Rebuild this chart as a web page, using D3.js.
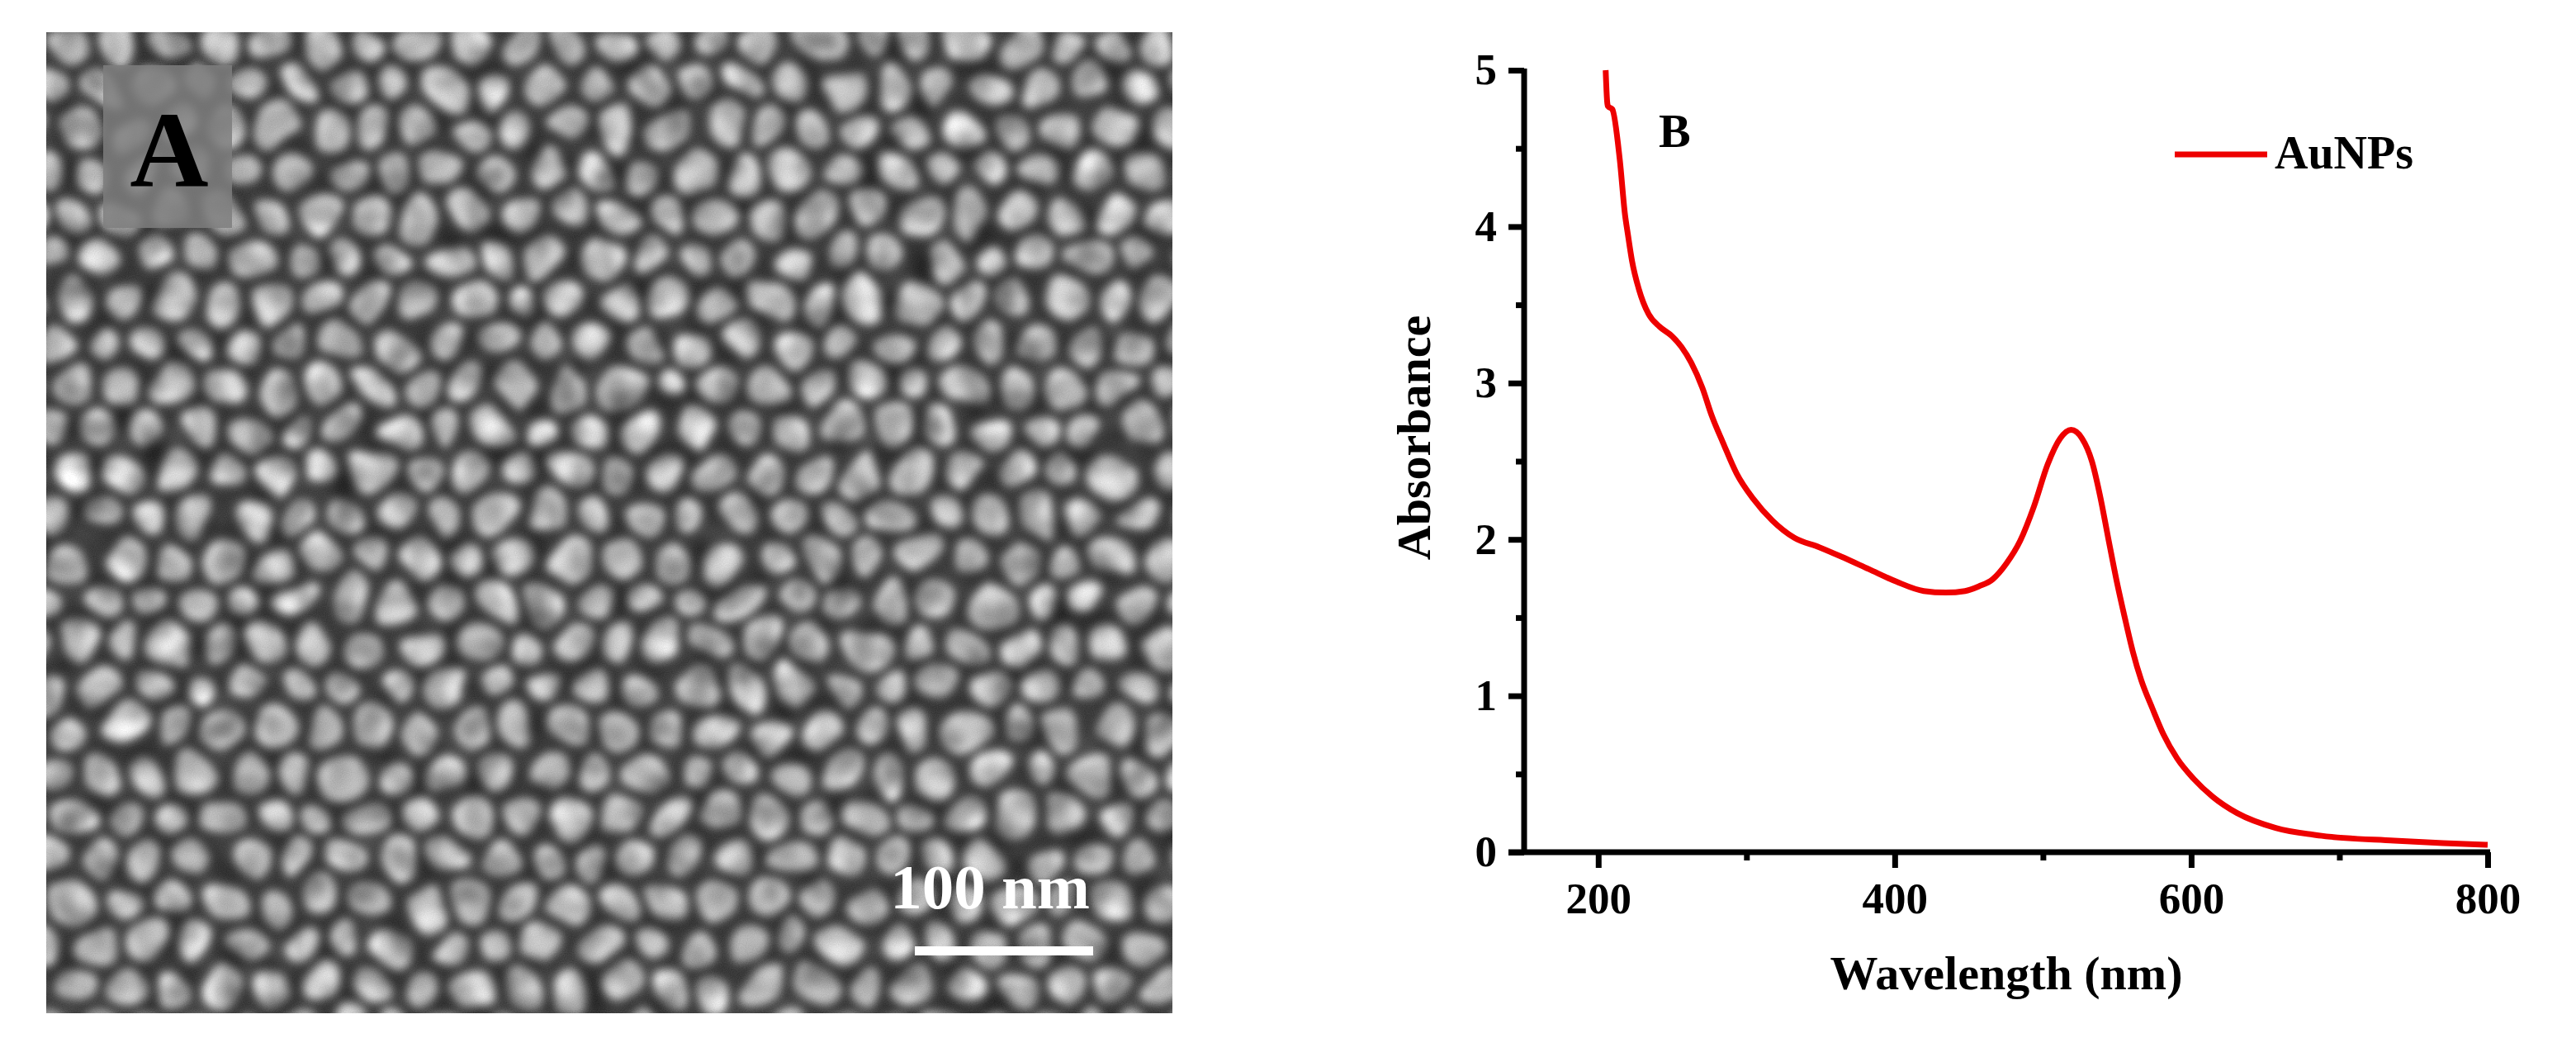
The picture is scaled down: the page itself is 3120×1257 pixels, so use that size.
<!DOCTYPE html>
<html>
<head>
<meta charset="utf-8">
<script src="https://cdn.jsdelivr.net/npm/d3@7/dist/d3.min.js"></script>
<style>
  html, body { margin: 0; padding: 0; background: #fff; }
  svg { display: block; }
  text { font-family: "Times New Roman", "Liberation Serif", "DejaVu Serif", serif; font-weight: bold; }
</style>
</head>
<body>
<svg id="chart" width="3120" height="1257"></svg>
<script>
// ---------------- DATA ----------------
const wavelength = [205, 206, 206.5, 209.5, 214.5, 218, 220, 222.8, 227.4, 234, 241.4, 249.7, 256.2, 262.7, 270.2,
  276.6, 284.1, 293.4, 304.5, 317.5, 332.3, 349.1, 363.9, 382.5, 401.1, 419.6, 434.5, 447.5, 456.8, 466.1,
  475.3, 484.6, 493.9, 503.2, 511.6, 519, 526.4, 533, 538.5, 544, 549.6, 555.2, 560.7, 566.3, 573.8,
  581.2, 590.5, 601.6, 614.6, 631, 657, 688, 737, 770, 800];
const absorbance = [5.0, 4.8, 4.77, 4.75, 4.43, 4.08, 3.95, 3.78, 3.60, 3.44, 3.36, 3.30, 3.23, 3.13, 2.97,
  2.79, 2.62, 2.42, 2.26, 2.12, 2.01, 1.95, 1.89, 1.81, 1.73, 1.67, 1.66, 1.67, 1.70, 1.745,
  1.845, 1.99, 2.21, 2.48, 2.645, 2.70, 2.645, 2.50, 2.28, 2.01, 1.74, 1.50, 1.28, 1.10, 0.92,
  0.755, 0.60, 0.47, 0.354, 0.25, 0.155, 0.105, 0.074, 0.058, 0.047];
const xTicks = [200, 400, 600, 800];
const xMinorTicks = [300, 500, 700];
const yTicks = [0, 1, 2, 3, 4, 5];
const yMinorTicks = [0.5, 1.5, 2.5, 3.5, 4.5];
const xDomain = [150, 800];
const yDomain = [0, 5];
const seriesName = "AuNPs";
const xTitle = "Wavelength (nm)";
const yTitle = "Absorbance";
const panelLabels = ["A", "B"];
const scaleBarLabel = "100 nm";

// ---------------- LAYOUT ----------------
const svg = d3.select("#chart");
svg.append("rect").attr("width", 3120).attr("height", 1257).attr("fill", "#fff");

const RED = "#ee0000";
const SW = 7;

// ---------- Panel A : SEM micrograph (rendered texture) ----------
const sem = { x: 56, y: 39, w: 1364, h: 1188 };
const defs = svg.append("defs");

const pat = defs.append("pattern").attr("id", "hexdots")
  .attr("patternUnits", "userSpaceOnUse")
  .attr("width", 60).attr("height", 104);
[[0, 0, 22], [60, 0, 22], [30, 52, 23], [0, 104, 22], [60, 104, 22]].forEach(c => {
  pat.append("circle").attr("cx", c[0]).attr("cy", c[1]).attr("r", c[2]).attr("fill", "#b8b8b8");
});

const f = defs.append("filter").attr("id", "semfx")
  .attr("filterUnits", "userSpaceOnUse")
  .attr("x", sem.x - 60).attr("y", sem.y - 60).attr("width", sem.w + 120).attr("height", sem.h + 120)
  .attr("color-interpolation-filters", "sRGB");
f.append("feTurbulence").attr("type", "fractalNoise").attr("baseFrequency", 0.011)
  .attr("numOctaves", 2).attr("seed", 5).attr("result", "warp");
f.append("feDisplacementMap").attr("in", "SourceGraphic").attr("in2", "warp")
  .attr("scale", 48).attr("xChannelSelector", "R").attr("yChannelSelector", "G").attr("result", "disp");
f.append("feGaussianBlur").attr("in", "disp").attr("stdDeviation", 5.5).attr("result", "soft");
f.append("feTurbulence").attr("type", "fractalNoise").attr("baseFrequency", 0.03)
  .attr("numOctaves", 1).attr("seed", 11).attr("result", "br");
f.append("feColorMatrix").attr("in", "br").attr("type", "matrix")
  .attr("values", "0.6 0.4 0 0 0  0.6 0.4 0 0 0  0.6 0.4 0 0 0  0 0 0 0 1").attr("result", "brg");
f.append("feComposite").attr("in", "soft").attr("in2", "brg").attr("operator", "arithmetic")
  .attr("k1", 1.35).attr("k2", 0.32).attr("k3", 0).attr("k4", 0).attr("result", "mod");
f.append("feTurbulence").attr("type", "fractalNoise").attr("baseFrequency", 0.9)
  .attr("numOctaves", 1).attr("seed", 2).attr("result", "grain");
f.append("feColorMatrix").attr("in", "grain").attr("type", "matrix")
  .attr("values", "1 0 0 0 0  1 0 0 0 0  1 0 0 0 0  0 0 0 0 1").attr("result", "graing");
f.append("feComposite").attr("in", "mod").attr("in2", "graing").attr("operator", "arithmetic")
  .attr("k1", 0).attr("k2", 1).attr("k3", 0.12).attr("k4", -0.06);

defs.append("clipPath").attr("id", "semclip").append("rect")
  .attr("x", sem.x).attr("y", sem.y).attr("width", sem.w).attr("height", sem.h);

const semOuter = svg.append("g").attr("clip-path", "url(#semclip)");
const semInner = semOuter.append("g").attr("filter", "url(#semfx)");
semInner.append("rect").attr("x", sem.x - 60).attr("y", sem.y - 60)
  .attr("width", sem.w + 120).attr("height", sem.h + 120).attr("fill", "#3a3a3a");
semInner.append("rect").attr("x", sem.x - 60).attr("y", sem.y - 60)
  .attr("width", sem.w + 120).attr("height", sem.h + 120).attr("fill", "url(#hexdots)");

// label box "A"
svg.append("rect").attr("x", 125).attr("y", 79).attr("width", 156).attr("height", 197)
  .attr("fill", "#7e7e7e").attr("opacity", 0.85);
svg.append("text").attr("x", 205).attr("y", 226).attr("text-anchor", "middle")
  .attr("font-size", 132).attr("fill", "#000").text(panelLabels[0]);

// scale bar
svg.append("text").attr("x", 1199).attr("y", 1100).attr("text-anchor", "middle")
  .attr("font-size", 77).attr("fill", "#fff").text(scaleBarLabel);
svg.append("rect").attr("x", 1108).attr("y", 1146).attr("width", 216).attr("height", 11).attr("fill", "#fff");

// ---------- Panel B : UV-Vis spectrum ----------
const x = d3.scaleLinear().domain(xDomain).range([1846, 3013]);
const y = d3.scaleLinear().domain(yDomain).range([1032, 85]);

const gB = svg.append("g");

// curve
const pts = wavelength.map((w, i) => [w, absorbance[i]]);
gB.append("path").datum(pts)
  .attr("fill", "none").attr("stroke", RED).attr("stroke-width", SW)
  .attr("stroke-linejoin", "round")
  .attr("d", d3.line().x(d => x(d[0])).y(d => y(d[1])).curve(d3.curveMonotoneX));

// axes
const xAxis = d3.axisBottom(x).tickValues(xTicks).tickSize(19).tickSizeOuter(0).tickPadding(17)
  .tickFormat(d3.format("d"));
const gx = gB.append("g").attr("transform", "translate(0,1032)").call(xAxis);
const gxm = gB.append("g").attr("transform", "translate(0,1032)")
  .call(d3.axisBottom(x).tickValues(xMinorTicks).tickSize(10).tickSizeOuter(0).tickFormat(""));
gxm.select(".domain").remove();

const yAxis = d3.axisLeft(y).tickValues(yTicks).tickSize(19).tickSizeOuter(0).tickPadding(14)
  .tickFormat(d3.format("d"));
const gy = gB.append("g").attr("transform", "translate(1846,0)").call(yAxis);
const gym = gB.append("g").attr("transform", "translate(1846,0)")
  .call(d3.axisLeft(y).tickValues(yMinorTicks).tickSize(10).tickSizeOuter(0).tickFormat(""));
gym.select(".domain").remove();

[gx, gxm, gy, gym].forEach(g => {
  g.selectAll("path.domain").attr("stroke", "#000").attr("stroke-width", SW);
  g.selectAll(".tick line").attr("stroke", "#000").attr("stroke-width", SW);
  g.selectAll(".tick text").attr("fill", "#000").attr("font-size", 53)
    .attr("font-family", "'Times New Roman', 'Liberation Serif', serif").attr("font-weight", "bold");
});
// x-axis domain extends left to meet the y zero tick; y axis extends slightly above
gx.select(".domain").attr("d", `M${1827},0H${x(800) + 3}`);
gy.select(".domain").attr("d", `M0,${y(5) - 2}V${1032}`);

// titles
gB.append("text").attr("x", 2430).attr("y", 1198).attr("text-anchor", "middle")
  .attr("font-size", 58).attr("fill", "#000").text(xTitle);
gB.append("text").attr("transform", "translate(1732,530) rotate(-90)").attr("text-anchor", "middle")
  .attr("font-size", 58).attr("fill", "#000").text(yTitle);

// panel label B
gB.append("text").attr("x", 2009).attr("y", 178).attr("font-size", 58).attr("fill", "#000").text(panelLabels[1]);

// legend
gB.append("line").attr("x1", 2634).attr("x2", 2746).attr("y1", 187).attr("y2", 187)
  .attr("stroke", RED).attr("stroke-width", SW);
gB.append("text").attr("x", 2755).attr("y", 204).attr("font-size", 56).attr("fill", "#000").text(seriesName);
</script>
</body>
</html>
